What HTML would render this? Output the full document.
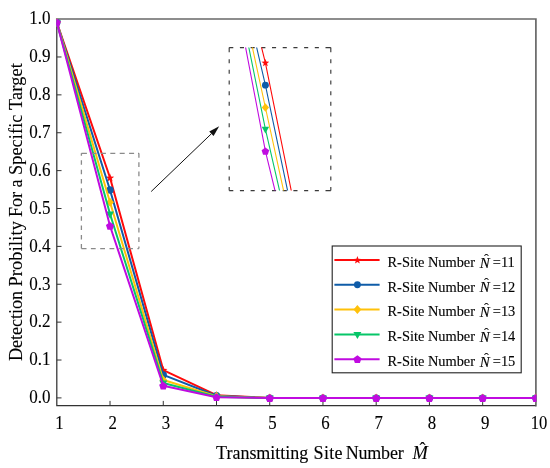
<!DOCTYPE html><html><head><meta charset="utf-8"><title>Detection Probability</title>
<style>html,body{margin:0;padding:0;background:#fff}body{width:550px;height:468px;overflow:hidden}svg{display:block}text{font-family:"Liberation Serif","DejaVu Serif",serif;fill:#000;stroke:#000;stroke-width:0.12px;font-variant-ligatures:none;font-feature-settings:"liga" 0,"clig" 0,"dlig" 0}</style></head><body>
<svg width="550" height="468" viewBox="0 0 550 468">
<rect width="550" height="468" fill="#fff"/>
<defs><clipPath id="pc"><rect x="56.3" y="18.7" width="480.3" height="387.6"/></clipPath><clipPath id="ic"><rect x="229.2" y="47.6" width="101.6" height="143"/></clipPath></defs>
<path d="M56.80 19.00 H535.90 V405.60" fill="none" stroke="#686868" stroke-width="1.7" stroke-linecap="square"/>
<path d="M56.80 21.00 V405.60 H534.90" fill="none" stroke="#333" stroke-width="1.25" stroke-linecap="square"/>
<path d="M110.03 405.60 v-4.7 M163.27 405.60 v-4.7 M216.50 405.60 v-4.7 M269.73 405.60 v-4.7 M322.96 405.60 v-4.7 M376.20 405.60 v-4.7 M429.43 405.60 v-4.7 M482.66 405.60 v-4.7 M56.80 397.90 h4.7 M56.80 360.02 h4.7 M56.80 322.14 h4.7 M56.80 284.26 h4.7 M56.80 246.38 h4.7 M56.80 208.50 h4.7 M56.80 170.62 h4.7 M56.80 132.74 h4.7 M56.80 94.86 h4.7 M56.80 56.98 h4.7" stroke="#333" stroke-width="1" fill="none"/>
<text x="29.3" y="403.20" font-size="18.0" textLength="21.3" lengthAdjust="spacingAndGlyphs">0.0</text>
<text x="29.3" y="365.32" font-size="18.0" textLength="21.3" lengthAdjust="spacingAndGlyphs">0.1</text>
<text x="29.3" y="327.44" font-size="18.0" textLength="21.3" lengthAdjust="spacingAndGlyphs">0.2</text>
<text x="29.3" y="289.56" font-size="18.0" textLength="21.3" lengthAdjust="spacingAndGlyphs">0.3</text>
<text x="29.3" y="251.68" font-size="18.0" textLength="21.3" lengthAdjust="spacingAndGlyphs">0.4</text>
<text x="29.3" y="213.80" font-size="18.0" textLength="21.3" lengthAdjust="spacingAndGlyphs">0.5</text>
<text x="29.3" y="175.92" font-size="18.0" textLength="21.3" lengthAdjust="spacingAndGlyphs">0.6</text>
<text x="29.3" y="138.04" font-size="18.0" textLength="21.3" lengthAdjust="spacingAndGlyphs">0.7</text>
<text x="29.3" y="100.16" font-size="18.0" textLength="21.3" lengthAdjust="spacingAndGlyphs">0.8</text>
<text x="29.3" y="62.28" font-size="18.0" textLength="21.3" lengthAdjust="spacingAndGlyphs">0.9</text>
<text x="29.3" y="24.40" font-size="18.0" textLength="21.3" lengthAdjust="spacingAndGlyphs">1.0</text>
<text x="55.20" y="428.6" font-size="18.0" textLength="8.4" lengthAdjust="spacingAndGlyphs">1</text>
<text x="108.43" y="428.6" font-size="18.0" textLength="8.4" lengthAdjust="spacingAndGlyphs">2</text>
<text x="161.67" y="428.6" font-size="18.0" textLength="8.4" lengthAdjust="spacingAndGlyphs">3</text>
<text x="214.90" y="428.6" font-size="18.0" textLength="8.4" lengthAdjust="spacingAndGlyphs">4</text>
<text x="268.13" y="428.6" font-size="18.0" textLength="8.4" lengthAdjust="spacingAndGlyphs">5</text>
<text x="321.37" y="428.6" font-size="18.0" textLength="8.4" lengthAdjust="spacingAndGlyphs">6</text>
<text x="374.60" y="428.6" font-size="18.0" textLength="8.4" lengthAdjust="spacingAndGlyphs">7</text>
<text x="427.83" y="428.6" font-size="18.0" textLength="8.4" lengthAdjust="spacingAndGlyphs">8</text>
<text x="481.06" y="428.6" font-size="18.0" textLength="8.4" lengthAdjust="spacingAndGlyphs">9</text>
<text x="530.80" y="428.6" font-size="18.0" textLength="16.6" lengthAdjust="spacingAndGlyphs">10</text>
<text transform="translate(22.1 361.0) rotate(-90)" font-size="18.2"><tspan x="0.0" textLength="70.0" lengthAdjust="spacing">Detection</tspan> <tspan x="74.5" textLength="65.3" lengthAdjust="spacing">Probility</tspan> <tspan x="144.0" textLength="25.0" lengthAdjust="spacing">For</tspan> <tspan x="173.6" textLength="8.0" lengthAdjust="spacing">a</tspan> <tspan x="186.0" textLength="60.4" lengthAdjust="spacing">Specific</tspan> <tspan x="251.0" textLength="46.8" lengthAdjust="spacing">Target</tspan></text>
<text y="459.4" font-size="18.0"><tspan x="216.1" textLength="92.2" lengthAdjust="spacing">Transmitting</tspan> <tspan x="313.6" textLength="29.0" lengthAdjust="spacing">Site</tspan> <tspan x="345.7" textLength="58.0" lengthAdjust="spacing">Number</tspan></text>
<text x="412.6" y="458.8" font-size="18.4" font-style="italic">M</text>
<text x="419.6" y="454.9" font-size="18.0">ˆ</text>
<g clip-path="url(#pc)">
<polyline points="56.80,22.40 110.03,177.80 163.27,370.10 216.50,395.20 269.73,398.10 322.96,398.10 376.20,398.10 429.43,398.10 482.66,398.10 535.90,398.10" fill="none" stroke="#ff0a0a" stroke-width="2" stroke-linejoin="round"/>
<path d="M56.80 18.20 L57.89 21.10 L60.98 21.24 L58.56 23.17 L59.39 26.16 L56.80 24.45 L54.21 26.16 L55.04 23.17 L52.62 21.24 L55.71 21.10Z" fill="#ff0a0a"/>
<path d="M110.03 173.60 L111.12 176.50 L114.22 176.64 L111.79 178.57 L112.62 181.56 L110.03 179.85 L107.45 181.56 L108.28 178.57 L105.85 176.64 L108.95 176.50Z" fill="#ff0a0a"/>
<path d="M163.27 365.90 L164.35 368.80 L167.45 368.94 L165.02 370.87 L165.85 373.86 L163.27 372.15 L160.68 373.86 L161.51 370.87 L159.08 368.94 L162.18 368.80Z" fill="#ff0a0a"/>
<path d="M216.50 391.00 L217.59 393.90 L220.68 394.04 L218.26 395.97 L219.09 398.96 L216.50 397.25 L213.91 398.96 L214.74 395.97 L212.31 394.04 L215.41 393.90Z" fill="#ff0a0a"/>
<path d="M269.73 393.90 L270.82 396.80 L273.92 396.94 L271.49 398.87 L272.32 401.86 L269.73 400.15 L267.15 401.86 L267.97 398.87 L265.55 396.94 L268.65 396.80Z" fill="#ff0a0a"/>
<path d="M322.96 393.90 L324.05 396.80 L327.15 396.94 L324.72 398.87 L325.55 401.86 L322.96 400.15 L320.38 401.86 L321.21 398.87 L318.78 396.94 L321.88 396.80Z" fill="#ff0a0a"/>
<path d="M376.20 393.90 L377.28 396.80 L380.38 396.94 L377.96 398.87 L378.78 401.86 L376.20 400.15 L373.61 401.86 L374.44 398.87 L372.01 396.94 L375.11 396.80Z" fill="#ff0a0a"/>
<path d="M429.43 393.90 L430.52 396.80 L433.62 396.94 L431.19 398.87 L432.02 401.86 L429.43 400.15 L426.84 401.86 L427.67 398.87 L425.25 396.94 L428.34 396.80Z" fill="#ff0a0a"/>
<path d="M482.66 393.90 L483.75 396.80 L486.85 396.94 L484.42 398.87 L485.25 401.86 L482.66 400.15 L480.08 401.86 L480.91 398.87 L478.48 396.94 L481.58 396.80Z" fill="#ff0a0a"/>
<path d="M535.90 393.90 L536.98 396.80 L540.08 396.94 L537.65 398.87 L538.48 401.86 L535.90 400.15 L533.31 401.86 L534.14 398.87 L531.71 396.94 L534.81 396.80Z" fill="#ff0a0a"/>
<polyline points="56.80,22.40 110.03,190.00 163.27,374.90 216.50,395.80 269.73,398.10 322.96,398.10 376.20,398.10 429.43,398.10 482.66,398.10 535.90,398.10" fill="none" stroke="#0f5ca8" stroke-width="2" stroke-linejoin="round"/>
<circle cx="56.80" cy="22.40" r="3.70" fill="#0f5ca8"/>
<circle cx="110.03" cy="190.00" r="3.70" fill="#0f5ca8"/>
<circle cx="163.27" cy="374.90" r="3.70" fill="#0f5ca8"/>
<circle cx="216.50" cy="395.80" r="3.70" fill="#0f5ca8"/>
<circle cx="269.73" cy="398.10" r="3.70" fill="#0f5ca8"/>
<circle cx="322.96" cy="398.10" r="3.70" fill="#0f5ca8"/>
<circle cx="376.20" cy="398.10" r="3.70" fill="#0f5ca8"/>
<circle cx="429.43" cy="398.10" r="3.70" fill="#0f5ca8"/>
<circle cx="482.66" cy="398.10" r="3.70" fill="#0f5ca8"/>
<circle cx="535.90" cy="398.10" r="3.70" fill="#0f5ca8"/>
<polyline points="56.80,22.40 110.03,202.20 163.27,380.00 216.50,396.30 269.73,398.10 322.96,398.10 376.20,398.10 429.43,398.10 482.66,398.10 535.90,398.10" fill="none" stroke="#ffc10a" stroke-width="2" stroke-linejoin="round"/>
<path d="M56.80 17.90 L60.70 22.40 L56.80 26.90 L52.90 22.40Z" fill="#ffc10a"/>
<path d="M110.03 197.70 L113.93 202.20 L110.03 206.70 L106.13 202.20Z" fill="#ffc10a"/>
<path d="M163.27 375.50 L167.17 380.00 L163.27 384.50 L159.37 380.00Z" fill="#ffc10a"/>
<path d="M216.50 391.80 L220.40 396.30 L216.50 400.80 L212.60 396.30Z" fill="#ffc10a"/>
<path d="M269.73 393.60 L273.63 398.10 L269.73 402.60 L265.83 398.10Z" fill="#ffc10a"/>
<path d="M322.96 393.60 L326.86 398.10 L322.96 402.60 L319.06 398.10Z" fill="#ffc10a"/>
<path d="M376.20 393.60 L380.10 398.10 L376.20 402.60 L372.30 398.10Z" fill="#ffc10a"/>
<path d="M429.43 393.60 L433.33 398.10 L429.43 402.60 L425.53 398.10Z" fill="#ffc10a"/>
<path d="M482.66 393.60 L486.56 398.10 L482.66 402.60 L478.76 398.10Z" fill="#ffc10a"/>
<path d="M535.90 393.60 L539.80 398.10 L535.90 402.60 L532.00 398.10Z" fill="#ffc10a"/>
<polyline points="56.80,22.40 110.03,214.00 163.27,383.00 216.50,396.80 269.73,398.10 322.96,398.10 376.20,398.10 429.43,398.10 482.66,398.10 535.90,398.10" fill="none" stroke="#06c668" stroke-width="2" stroke-linejoin="round"/>
<path d="M52.80 19.90 L60.80 19.90 L56.80 27.10Z" fill="#06c668"/>
<path d="M106.03 211.50 L114.03 211.50 L110.03 218.70Z" fill="#06c668"/>
<path d="M159.27 380.50 L167.27 380.50 L163.27 387.70Z" fill="#06c668"/>
<path d="M212.50 394.30 L220.50 394.30 L216.50 401.50Z" fill="#06c668"/>
<path d="M265.73 395.60 L273.73 395.60 L269.73 402.80Z" fill="#06c668"/>
<path d="M318.96 395.60 L326.96 395.60 L322.96 402.80Z" fill="#06c668"/>
<path d="M372.20 395.60 L380.20 395.60 L376.20 402.80Z" fill="#06c668"/>
<path d="M425.43 395.60 L433.43 395.60 L429.43 402.80Z" fill="#06c668"/>
<path d="M478.66 395.60 L486.66 395.60 L482.66 402.80Z" fill="#06c668"/>
<path d="M531.90 395.60 L539.90 395.60 L535.90 402.80Z" fill="#06c668"/>
<polyline points="56.80,22.40 110.03,226.00 163.27,385.80 216.50,397.20 269.73,398.10 322.96,398.10 376.20,398.10 429.43,398.10 482.66,398.10 535.90,398.10" fill="none" stroke="#c00be0" stroke-width="2" stroke-linejoin="round"/>
<path d="M56.80 18.40 L60.89 21.37 L59.33 26.18 L54.27 26.18 L52.71 21.37Z" fill="#c00be0"/>
<path d="M110.03 222.00 L114.12 224.97 L112.56 229.78 L107.51 229.78 L105.94 224.97Z" fill="#c00be0"/>
<path d="M163.27 381.80 L167.36 384.77 L165.79 389.58 L160.74 389.58 L159.18 384.77Z" fill="#c00be0"/>
<path d="M216.50 393.20 L220.59 396.17 L219.03 400.98 L213.97 400.98 L212.41 396.17Z" fill="#c00be0"/>
<path d="M269.73 394.10 L273.82 397.07 L272.26 401.88 L267.20 401.88 L265.64 397.07Z" fill="#c00be0"/>
<path d="M322.96 394.10 L327.05 397.07 L325.49 401.88 L320.44 401.88 L318.88 397.07Z" fill="#c00be0"/>
<path d="M376.20 394.10 L380.29 397.07 L378.73 401.88 L373.67 401.88 L372.11 397.07Z" fill="#c00be0"/>
<path d="M429.43 394.10 L433.52 397.07 L431.96 401.88 L426.90 401.88 L425.34 397.07Z" fill="#c00be0"/>
<path d="M482.66 394.10 L486.75 397.07 L485.19 401.88 L480.14 401.88 L478.57 397.07Z" fill="#c00be0"/>
<path d="M535.90 394.10 L539.99 397.07 L538.42 401.88 L533.37 401.88 L531.81 397.07Z" fill="#c00be0"/>
</g>
<path d="M81.40 153.30 H86.90 M91.50 153.30 H96.50 M100.90 153.30 H105.90 M110.30 153.30 H115.30 M119.70 153.30 H124.70 M129.10 153.30 H134.10 M138.00 153.30 H138.90 M81.40 248.60 H86.50 M90.90 248.60 H95.70 M100.20 248.60 H105.00 M109.50 248.60 H114.30 M118.80 248.60 H123.60 M128.10 248.60 H132.90 M137.40 248.60 H138.90 M81.40 153.30 V155.80 M81.40 160.30 V164.80 M81.40 169.63 V174.13 M81.40 178.96 V183.46 M81.40 188.29 V192.79 M81.40 197.62 V202.12 M81.40 206.95 V211.45 M81.40 216.28 V220.78 M81.40 225.61 V230.11 M81.40 234.94 V239.44 M81.40 244.00 V248.60 M138.90 153.30 V157.70 M138.90 162.20 V167.00 M138.90 171.57 V176.37 M138.90 180.94 V185.74 M138.90 190.31 V195.11 M138.90 199.68 V204.48 M138.90 209.05 V213.85 M138.90 218.42 V223.22 M138.90 227.79 V232.59 M138.90 237.16 V241.96 M138.90 246.50 V248.60" fill="none" stroke="#8a8a8a" stroke-width="1.3"/>
<rect x="229.2" y="47.6" width="101.6" height="143" fill="#fff"/>
<path d="M229.20 47.60 H233.30 M239.90 47.60 H244.00 M250.60 47.60 H254.70 M261.30 47.60 H265.40 M272.00 47.60 H276.10 M282.70 47.60 H286.80 M293.40 47.60 H297.50 M304.10 47.60 H308.20 M314.80 47.60 H318.90 M325.50 47.60 H330.80 M229.20 190.60 H233.30 M239.90 190.60 H244.00 M250.60 190.60 H254.70 M261.30 190.60 H265.40 M272.00 190.60 H276.10 M282.70 190.60 H286.80 M293.40 190.60 H297.50 M304.10 190.60 H308.20 M314.80 190.60 H318.90 M325.50 190.60 H330.80 M229.20 47.60 V52.20 M229.20 59.20 V63.20 M229.20 69.86 V73.86 M229.20 80.52 V84.52 M229.20 91.18 V95.18 M229.20 101.84 V105.84 M229.20 112.50 V116.50 M229.20 123.16 V127.16 M229.20 133.82 V137.82 M229.20 144.48 V148.48 M229.20 155.14 V159.14 M229.20 165.80 V169.80 M229.20 176.46 V180.46 M229.20 187.12 V190.60 M330.80 47.60 V52.20 M330.80 59.20 V63.20 M330.80 69.86 V73.86 M330.80 80.52 V84.52 M330.80 91.18 V95.18 M330.80 101.84 V105.84 M330.80 112.50 V116.50 M330.80 123.16 V127.16 M330.80 133.82 V137.82 M330.80 144.48 V148.48 M330.80 155.14 V159.14 M330.80 165.80 V169.80 M330.80 176.46 V180.46 M330.80 187.12 V190.60" fill="none" stroke="#3a3a3a" stroke-width="1.15" stroke-linecap="butt"/>
<g clip-path="url(#ic)">
<polyline points="194.17,-221.89 265.40,62.80 336.63,415.09" fill="none" stroke="#ff0a0a" stroke-width="1.1"/>
<path d="M265.40 58.91 L266.41 61.61 L269.29 61.74 L267.03 63.53 L267.81 66.31 L265.40 64.72 L262.99 66.31 L263.77 63.53 L261.51 61.74 L264.39 61.61Z" fill="#ff0a0a"/>
<polyline points="194.17,-221.89 265.40,85.15 336.63,423.89" fill="none" stroke="#0f5ca8" stroke-width="1.1"/>
<circle cx="265.40" cy="85.15" r="3.44" fill="#0f5ca8"/>
<polyline points="194.17,-221.89 265.40,107.50 336.63,433.23" fill="none" stroke="#ffc10a" stroke-width="1.1"/>
<path d="M265.40 103.32 L269.03 107.50 L265.40 111.69 L261.77 107.50Z" fill="#ffc10a"/>
<polyline points="194.17,-221.89 265.40,129.12 336.63,438.73" fill="none" stroke="#06c668" stroke-width="1.1"/>
<path d="M261.68 126.79 L269.12 126.79 L265.40 133.49Z" fill="#06c668"/>
<polyline points="194.17,-221.89 265.40,151.10 336.63,443.86" fill="none" stroke="#c00be0" stroke-width="1.1"/>
<path d="M265.40 147.40 L269.20 150.17 L267.75 154.64 L263.05 154.64 L261.60 150.17Z" fill="#c00be0"/>
</g>
<path d="M151.20 191.50 L211.40 133.77" stroke="#111" stroke-width="1.0"/>
<path d="M219.20 126.30 L213.55 136.01 L209.26 131.54Z" fill="#111"/>
<rect x="332.2" y="246" width="189" height="126.8" fill="#fff" stroke="#222" stroke-width="1.1"/>
<path d="M334.4 260.00 H379.6" stroke="#ff0a0a" stroke-width="2"/>
<path d="M357.40 256.11 L358.41 258.81 L361.29 258.94 L359.03 260.73 L359.81 263.51 L357.40 261.92 L354.99 263.51 L355.77 260.73 L353.51 258.94 L356.39 258.81Z" fill="#ff0a0a"/>
<text x="387.5" y="266.70" font-size="14.4">R-Site Number</text>
<text x="479.8" y="267.50" font-size="15.0" font-style="italic">N</text>
<text x="484" y="263.50" font-size="14.4">ˆ</text>
<text x="492.8" y="266.70" font-size="14.4">=11</text>
<path d="M334.4 284.80 H379.6" stroke="#0f5ca8" stroke-width="2"/>
<circle cx="357.40" cy="284.80" r="3.44" fill="#0f5ca8"/>
<text x="387.5" y="291.50" font-size="14.4">R-Site Number</text>
<text x="479.8" y="292.30" font-size="15.0" font-style="italic">N</text>
<text x="484" y="288.30" font-size="14.4">ˆ</text>
<text x="492.8" y="291.50" font-size="14.4">=12</text>
<path d="M334.4 309.60 H379.6" stroke="#ffc10a" stroke-width="2"/>
<path d="M357.40 305.10 L361.30 309.60 L357.40 314.10 L353.50 309.60Z" fill="#ffc10a"/>
<text x="387.5" y="316.30" font-size="14.4">R-Site Number</text>
<text x="479.8" y="317.10" font-size="15.0" font-style="italic">N</text>
<text x="484" y="313.10" font-size="14.4">ˆ</text>
<text x="492.8" y="316.30" font-size="14.4">=13</text>
<path d="M334.4 334.40 H379.6" stroke="#06c668" stroke-width="2"/>
<path d="M353.40 331.90 L361.40 331.90 L357.40 339.10Z" fill="#06c668"/>
<text x="387.5" y="341.10" font-size="14.4">R-Site Number</text>
<text x="479.8" y="341.90" font-size="15.0" font-style="italic">N</text>
<text x="484" y="337.90" font-size="14.4">ˆ</text>
<text x="492.8" y="341.10" font-size="14.4">=14</text>
<path d="M334.4 359.20 H379.6" stroke="#c00be0" stroke-width="2"/>
<path d="M357.40 355.20 L361.49 358.17 L359.93 362.98 L354.87 362.98 L353.31 358.17Z" fill="#c00be0"/>
<text x="387.5" y="365.90" font-size="14.4">R-Site Number</text>
<text x="479.8" y="366.70" font-size="15.0" font-style="italic">N</text>
<text x="484" y="362.70" font-size="14.4">ˆ</text>
<text x="492.8" y="365.90" font-size="14.4">=15</text>
</svg></body></html>
